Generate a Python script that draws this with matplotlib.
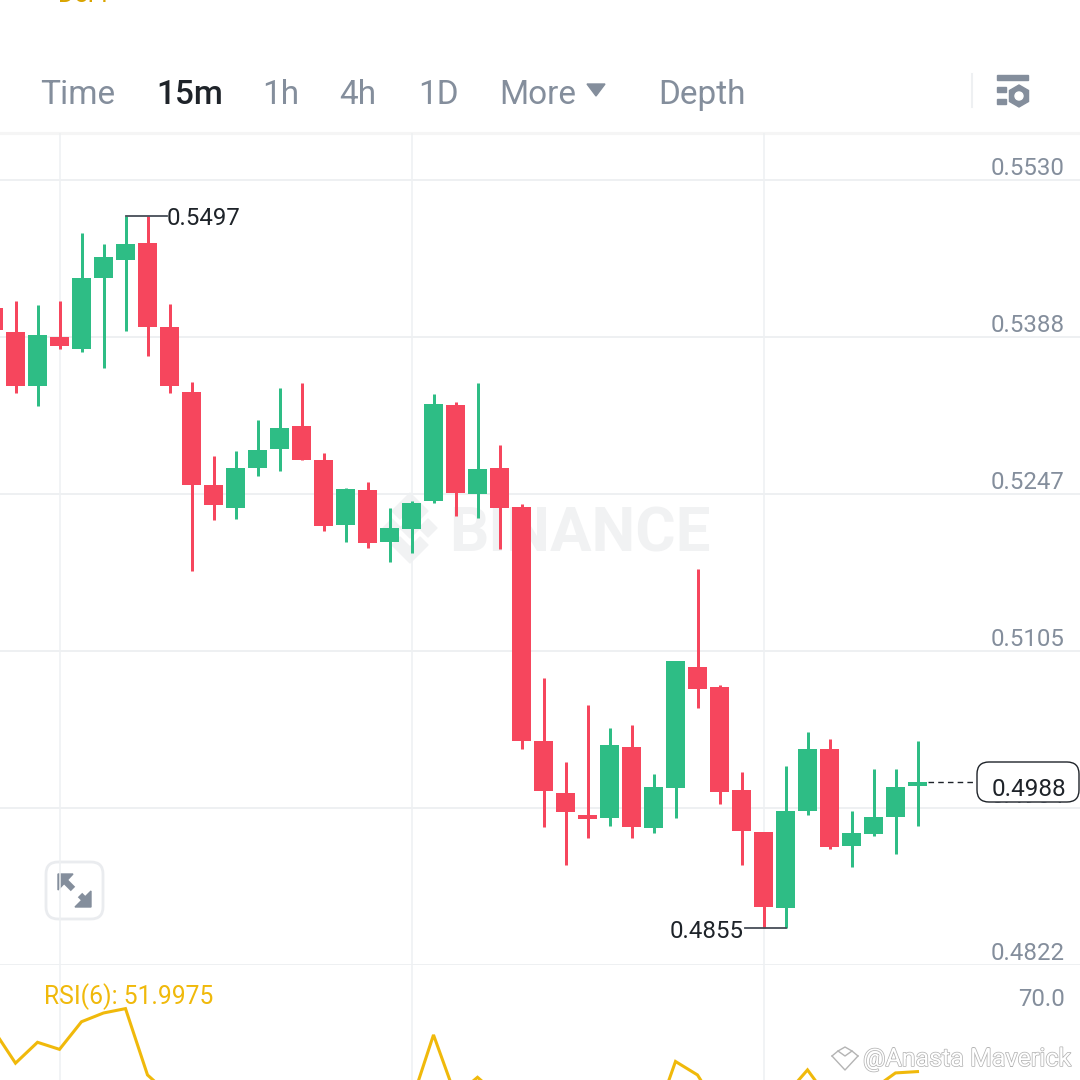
import matplotlib
matplotlib.use('Agg')
import numpy as np
import matplotlib.pyplot as plt
from matplotlib.patches import FancyBboxPatch, Polygon, Rectangle, RegularPolygon, Circle
import matplotlib.patheffects as pe

plt.rcParams['font.family'] = ['Roboto', 'DejaVu Sans']

# candles, oldest first (first one is cut off by the left edge)
opens = [.54146, .53932, .53445, .53881, .53776, .54416, .54576, .54735, .53974, .53391, .52549,
         .52342, .52703, .52874, .53081, .52772, .52191, .52501, .52032, .52152, .52402, .53271,
         .52465, .52700, .52348, .50243, .49774, .49573, .49549, .50184, .49458, .49816, .50908,
         .50727, .49796, .49422, .48737, .49606, .50166, .49296, .49404, .49555, .49837]
highs = [.54220, .54211, .54173, .54211, .54825, .54723, .54975, .54975, .54182, .53481, .52811,
         .52859, .53133, .53421, .53472, .52841, .52519, .52579, .52339, .52408, .53367, .53301,
         .53472, .52907, .52378, .50806, .50054, .50565, .50355, .50385, .49943, .50959, .51789,
         .50745, .49964, .49422, .50012, .50324, .50256, .49612, .49985, .49985, .50243]
lows = [.53920, .53379, .53264, .53773, .53751, .53604, .53935, .53715, .53376, .51774, .52231,
        .52243, .52633, .52673, .52772, .52132, .52032, .51984, .51852, .51933, .52390, .52272,
        .52254, .51972, .50168, .49467, .49119, .49368, .49476, .49368, .49408, .49549, .50541,
        .49675, .49125, .48551, .48551, .49570, .49266, .49107, .49386, .49224, .49476]
closes = [.53947, .53445, .53902, .53806, .54413, .54603, .54723, .53977, .53445, .52552, .52372,
          .52700, .52862, .53061, .52772, .52182, .52510, .52023, .52159, .52390, .53280, .52474,
          .52691, .52342, .50238, .49787, .49597, .49537, .50204, .49467, .49825, .50959, .50709,
          .49778, .49426, .48746, .49612, .50166, .49287, .49413, .49552, .49825, .49873]

# the part below the panel cannot be read, those values are rough
rsi = [64.4, 54.5, 60.7, 58.6, 66.8, 69.4, 70.7, 51.0, 45.1, 33, 32, 36, 38, 42, 38, 32, 35, 31,
       34, 43, 62.9, 44.8, 50.3, 44.6, 22, 20, 19, 20, 30, 28, 36.5, 55, 51, 40.6, 33, 28, 45,
       52.5, 43.6, 42.1, 46.9, 51.6, 51.9975]

price_ticks = [0.5530, 0.5388, 0.5247, 0.5105, 0.4964, 0.4822]
price_labels = ['0.5530', '0.5388', '0.5247', '0.5105', '0.4964', '0.4822']
time_ticks = [2, 18, 34]
high_label, low_label, last_label = '0.5497', '0.4855', '0.4988'
high_price, low_price, last_price = 0.54975, 0.48551, 0.49873
menu = ['Time', '15m', '1h', '4h', '1D', 'More', 'Depth']

RED, GREEN = '#F6465D', '#2EBD85'
GREY, DARK, GRID, GOLD = '#848E9C', '#1E2329', '#EEF0F2', '#F0B90B'
XLIM = (-15.5 / 22.0, 1064.5 / 22.0)

fig = plt.figure(figsize=(10.8, 10.8), dpi=100, facecolor='white')

# pixel axes for the app chrome, sits under the chart
ui = fig.add_axes([0, 0, 1, 1], zorder=0)
ui.set_xlim(0, 1080)
ui.set_ylim(1080, 0)
ui.axis('off')

xs_menu = [40, 156, 262, 339, 418, 499, 658]
for x, s in zip(xs_menu, menu):
    active = s == '15m'
    ui.text(x, 95, s, fontsize=24, color=DARK if active else GREY, va='center', ha='left',
            fontweight='medium' if active else 'normal')
ui.add_patch(Polygon([(587, 84), (605, 84), (596, 96)], color=GREY))
ui.text(58, -5, 'DeFi  >', fontsize=18, color='#D9A400', va='center', clip_on=False)
ui.plot([972, 972], [74, 107], color=GRID, lw=1.5)
ui.add_patch(Rectangle((997, 75), 31, 5, color=GREY))
ui.add_patch(Rectangle((997, 87), 9, 5, color=GREY))
ui.add_patch(Rectangle((997, 99), 9, 5, color=GREY))
ui.add_patch(RegularPolygon((1019, 96), 6, radius=11, color=GREY))
ui.add_patch(Circle((1019, 96), 4, color='white'))
ui.plot([0, 1080], [133, 133], color='#F5F5F5', lw=2.2)

# binance watermark
logo = [[(410, 493), (428, 511), (420, 519), (410, 509), (400, 519), (392, 511)],
        [(410, 563), (428, 545), (420, 537), (410, 547), (400, 537), (392, 545)],
        [(410, 518), (420, 528), (410, 538), (400, 528)],
        [(383, 528), (392, 519), (401, 528), (392, 537)],
        [(437, 528), (428, 519), (419, 528), (428, 537)]]
for pts in logo:
    ui.add_patch(Polygon(pts, color='#F1F2F3'))
ui.text(580, 534, 'BINANCE', fontsize=44.5, fontweight='bold', color='#F1F2F3', ha='center', va='center')

# expand button
ui.add_patch(FancyBboxPatch((46, 862), 57, 57, boxstyle='round,pad=0,rounding_size=12',
                            fc='white', ec='#EAECEF', lw=2))
ui.plot([64, 73], [880, 889], color=GREY, lw=4.5, solid_capstyle='butt')
ui.plot([80, 86], [895, 901], color=GREY, lw=4.5, solid_capstyle='butt')
ui.add_patch(Polygon([(58, 874), (73, 874), (58, 890)], color=GREY))
ui.add_patch(Polygon([(91, 907), (75, 907), (91, 891)], color=GREY))

# price panel
ax = fig.add_axes([0, 115 / 1080, 1, 832 / 1080], zorder=1)
ax.patch.set_visible(False)
ax.set_xlim(*XLIM)
ax.set_ylim(0.48220, 0.55724)
for s in ax.spines.values():
    s.set_visible(False)
ax.set_axisbelow(True)
ax.grid(True, axis='y', color=GRID, lw=1.4)
ax.grid(True, axis='x', color=GRID, lw=1.1)
ax.set_xticks(time_ticks, labels=[])
ax.set_yticks(price_ticks, labels=price_labels)
ax.tick_params(axis='x', length=0)
ax.tick_params(axis='y', length=0, labelleft=False, labelright=True, pad=-64, labelsize=17.3, labelcolor=GREY)
for t in ax.get_yticklabels():
    t.set_va('bottom')

idx = np.arange(-1, 42)
o, h, l, c = map(np.array, (opens, highs, lows, closes))
colors = [GREEN if b >= a else RED for a, b in zip(o, c)]
ax.vlines(idx, l, h, colors=colors, lw=2.16, capstyle='butt', zorder=3)
ax.bar(idx, np.abs(c - o), bottom=np.minimum(o, c), width=0.875, color=colors, zorder=4)

ax.plot([5, 6.89], [high_price, high_price], color='#474D57', lw=1.3, zorder=5)
ax.annotate(high_label, (6.89, high_price), xytext=(0, -2), textcoords='offset points', fontsize=17.3,
            color=DARK, va='center', ha='left', zorder=5)
ax.plot([33.16, 35], [low_price, low_price], color='#474D57', lw=1.3, zorder=5)
ax.annotate(low_label, (33.1, low_price), xytext=(0, -2.5), textcoords='offset points', fontsize=17.3,
            color=DARK, va='center', ha='right', zorder=5)

ax.plot([41.48, 43.7], [last_price, last_price], color=DARK, lw=1, ls=(0, (4, 3)), zorder=5)
ax.add_patch(FancyBboxPatch((977, 762), 102, 40, boxstyle='round,pad=0,rounding_size=12', fc='white', ec=DARK,
                            lw=1, transform=ui.transData, zorder=6, clip_on=False))
ax.text(1028.5, 789, last_label, fontsize=17.5, color=DARK, ha='center', va='center',
        transform=ui.transData, zorder=7)

# rsi panel, mostly cut off by the image edge
ar = fig.add_axes([0, 0, 1, 115 / 1080], zorder=2)
ar.patch.set_visible(False)
ar.set_xlim(*XLIM)
ar.set_ylim(49.5, 83.65)
for s in ar.spines.values():
    s.set_visible(False)
ar.set_axisbelow(True)
ar.grid(True, axis='x', color=GRID, lw=1.1)
ar.set_xticks(time_ticks, labels=[])
ar.set_yticks([])
ar.tick_params(axis='x', length=0)
ar.plot(idx, rsi, color=GOLD, lw=2.2, solid_joinstyle='miter', zorder=3)

ar.text(44, 997, 'RSI(6): 51.9975', fontsize=17.7, color=GOLD, va='center', ha='left', transform=ui.transData)
ar.text(1065, 1000, '70.0', fontsize=17.3, color=GREY, va='center', ha='right', transform=ui.transData)

# author watermark on top of everything
stroke = [pe.withStroke(linewidth=1.1, foreground='#B4B4B4')]
ar.text(863, 1059, '@Anasta Maverick', fontsize=18, color='white', va='center', ha='left',
        transform=ui.transData, path_effects=stroke, zorder=8, clip_on=False)
for pts in [[(832, 1056), (845, 1070), (858, 1056)],
            [(832, 1056), (838, 1051), (845, 1056), (852, 1051), (858, 1056)],
            [(838, 1051), (845, 1047), (852, 1051)]]:
    ar.plot(*zip(*pts), color='#B4B4B4', lw=1, transform=ui.transData, zorder=8, clip_on=False)

fig.savefig('out.png', dpi=100)
